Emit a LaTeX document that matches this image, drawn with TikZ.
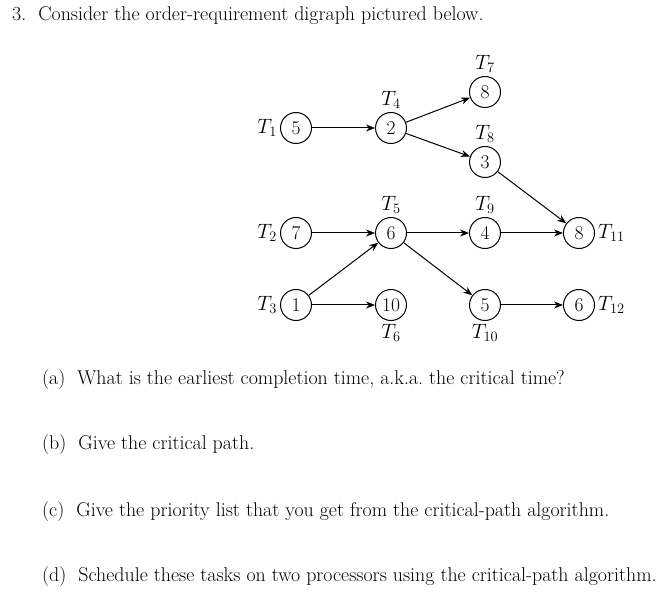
\documentclass[tikz,border=0pt]{standalone}
\usetikzlibrary{arrows.meta}
\begin{document}
\begin{tikzpicture}[x=1pt,y=-1pt,
  task/.style={circle,draw,line width=1pt,minimum size=31pt,inner sep=0pt,font=\fontsize{19.5}{23}\selectfont},
  lab/.style={inner sep=3pt,font=\fontsize{19.5}{23}\selectfont},
  txt/.style={anchor=west,inner sep=0pt,font=\fontsize{19.9}{24}\selectfont},
  arr/.style={-{Stealth[length=9pt,width=7pt]},line width=1pt}]
\useasboundingbox (0,0) rectangle (666,601);
\node[task] (t1) at (296,128) {5};
\node[task] (t4) at (391,128) {2};
\node[task] (t7) at (485,92) {8};
\node[task] (t8) at (485,162) {3};
\node[task] (t2) at (296,233) {7};
\node[task] (t5) at (391,233) {6};
\node[task] (t9) at (485,233) {4};
\node[task] (t11) at (579,233) {8};
\node[task] (t3) at (296,305) {1};
\node[task] (t6) at (391,305) {10};
\node[task] (t10) at (485,305) {5};
\node[task] (t12) at (579,305) {6};
\node[lab,left] (l1) at (t1.west) {$T_1$};
\node[lab,left] (l2) at (t2.west) {$T_2$};
\node[lab,left] (l3) at (t3.west) {$T_3$};
\node[lab,above] (l4) at (t4.north) {$T_4$};
\node[lab,above] (l5) at (t5.north) {$T_5$};
\node[lab,below] (l6) at (t6.south) {$T_6$};
\node[lab,above] (l7) at (t7.north) {$T_7$};
\node[lab,above] (l8) at (t8.north) {$T_8$};
\node[lab,above] (l9) at (t9.north) {$T_9$};
\node[lab,below] (l10) at (t10.south) {$T_{10}$};
\node[lab,right] (l11) at (t11.east) {$T_{11}$};
\node[lab,right] (l12) at (t12.east) {$T_{12}$};
\draw[arr] (t1) -- (t4);
\draw[arr] (t4) -- (t7);
\draw[arr] (t4) -- (t8);
\draw[arr] (t8) -- (t11);
\draw[arr] (t2) -- (t5);
\draw[arr] (t5) -- (t9);
\draw[arr] (t9) -- (t11);
\draw[arr] (t5) -- (t10);
\draw[arr] (t3) -- (t5);
\draw[arr] (t3) -- (t6);
\draw[arr] (t10) -- (t12);
\node[txt] (q) at (12,16) {3.\ \ Consider the order-requirement digraph pictured below.};
\node[txt] (qa) at (42,380) {(a)\ \ What is the earliest completion time, a.k.a.\ the critical time?};
\node[txt] (qb) at (42,445) {(b)\ \ Give the critical path.};
\node[txt] (qc) at (42,512) {(c)\ \ Give the priority list that you get from the critical-path algorithm.};
\node[txt] (qd) at (42,577) {(d)\ \ Schedule these tasks on two processors using the critical-path algorithm.};
\end{tikzpicture}
\end{document}
